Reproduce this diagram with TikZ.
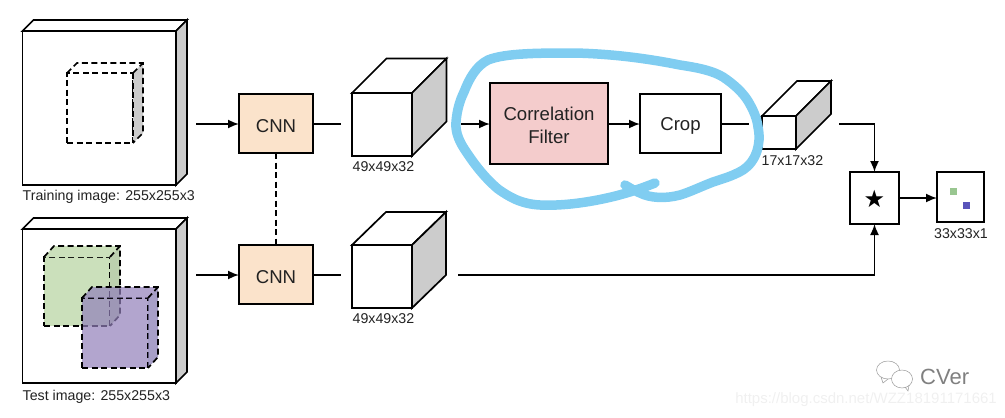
\documentclass[tikz,border=0pt]{standalone}
\usepackage{fontspec}
\setmainfont{Liberation Sans}
\newfontfamily\symfont{DejaVu Sans}
\usetikzlibrary{arrows.meta}
\definecolor{sidegray}{HTML}{CCCCCC}
\definecolor{cnnfill}{HTML}{FBE3CB}
\definecolor{cffill}{HTML}{F4CCCC}
\definecolor{greenf}{HTML}{CBE0BB}
\definecolor{greens}{HTML}{BCD0AE}
\definecolor{purplef}{HTML}{9280BA}
\definecolor{purples}{HTML}{8377B0}
\definecolor{scribble}{HTML}{80CDF1}
\definecolor{txt}{HTML}{222222}
\newcommand{\lowered}[1]{\raisebox{-2.2pt}[\height][\depth]{#1}}
\tikzset{
  edgeline/.style={draw=black,line width=1.7pt,line join=miter},
  dashline/.style={edgeline,dash pattern=on 6pt off 3.5pt},
  boxnode/.style={edgeline,inner sep=0pt,outer sep=0pt,align=center,text=txt,font=\fontsize{18.6}{23}\selectfont},
  facenode/.style={edgeline,fill=white,inner sep=0pt,outer sep=0pt},
  labnode/.style={inner sep=0pt,text=txt,font=\fontsize{14.2}{16}\selectfont},
  connline/.style={draw=black,line width=1.7pt},
  arrowline/.style={connline,-{Latex[length=11pt,width=9pt]}},
  cellnode/.style={inner sep=0pt,outer sep=0pt,minimum size=7pt},
  greenfront/.style={fill=greenf},
  greenside/.style={fill=greens},
  purplefront/.style={fill=purplef,fill opacity=.7},
  purpleside/.style={fill=purples,fill opacity=.7}
}
% name, cx, cy, w, h, dx, dy
\newcommand{\solidcube}[7]{%
  \node[facenode,minimum width=#4pt,minimum height=#5pt] (#1) at (#2,#3) {};
  \draw[edgeline,fill=white] (#1.north west) -- ++(#6,-#7) -- ++(#4,0) -- ++(-#6,#7) -- cycle;
  \draw[edgeline,fill=sidegray] (#1.north east) -- ++(#6,-#7) -- ++(0,#5) -- ++(-#6,#7) -- cycle;
}
% name, cx, cy, w, h, dx, dy, front style, side style
\newcommand{\dashcube}[9]{%
  \node[dashline,#8,inner sep=0pt,outer sep=0pt,minimum width=#4pt,minimum height=#5pt] (#1) at (#2,#3) {};
  \path[#9] (#1.north east) -- ++(#6,-#7) -- ++(0,#5) -- ++(-#6,#7) -- cycle;
  \path[#8] (#1.north west) -- ++(#6,-#7) -- ++(#4,0) -- ++(-#6,#7) -- cycle;
  \draw[dashline] (#1.north west) -- ++(#6,-#7) -- ++(#4,0) -- ++(0,#5) -- ++(-#6,#7);
  \draw[dashline] (#1.north east) -- ++(#6,-#7);
}
\begin{document}
\begin{tikzpicture}[x=1pt,y=-1pt]
\useasboundingbox (0,0) rectangle (1005,418);

% image slabs
\solidcube{train}{99.2}{108}{153.5}{154}{11}{11}
\solidcube{test}{99.2}{306}{153.5}{154}{11}{11}
\node[labnode,anchor=west] (trainlab) at (22.5,197) {Training image: 255x255x3};
\node[labnode,anchor=west] (testlab) at (22.5,397) {Test image: 255x255x3};

% dashed crops
\node[dashline,inner sep=0pt,outer sep=0pt,minimum width=66pt,minimum height=70pt] (tcrop) at (100,108) {};
\fill[sidegray] (tcrop.north east) -- ++(10,-10) -- ++(0,70) -- ++(-10,10) -- cycle;
\draw[dashline] (tcrop.north west) -- ++(10,-10) -- ++(66,0) -- ++(0,70) -- ++(-10,10);
\draw[dashline] (tcrop.north east) -- ++(10,-10);
\draw[dashline] (tcrop.north east) -- (tcrop.south east);
\dashcube{gcrop}{77}{291.5}{66}{69}{10}{11}{greenfront}{greenside}
\dashcube{pcrop}{115}{333}{66}{70}{10}{11}{purplefront}{purpleside}

% CNN
\node[boxnode,fill=cnnfill,minimum width=74pt,minimum height=59pt] (cnna) at (276,123.5) {\lowered{CNN}};
\node[boxnode,fill=cnnfill,minimum width=74pt,minimum height=59pt] (cnnb) at (276,274.5) {\lowered{CNN}};
\draw[dashline] (cnna) -- (cnnb);

% feature cubes
\solidcube{cubea}{382}{124.5}{60}{63}{34.5}{34.5}
\solidcube{cubeb}{382}{276.5}{60}{63}{34}{33}
\solidcube{cubec}{779}{132.5}{34}{33}{35}{35}
\node[labnode,anchor=west] (labela) at (352.5,167) {49x49x32};
\node[labnode,anchor=west] (labelb) at (352.5,319) {49x49x32};
\node[labnode,anchor=west] (labelc) at (761.5,161) {17x17x32};

% correlation and crop
\node[boxnode,fill=cffill,minimum width=118pt,minimum height=81pt] (cf) at (549,123.5) {\lowered{Correlation}\\\lowered{Filter}};
\node[boxnode,fill=white,minimum width=81pt,minimum height=59pt] (crop) at (680.5,123.5) {\lowered{Crop}};

% star and output
\node[boxnode,fill=white,minimum width=49pt,minimum height=52pt] (xcorr) at (874.5,198) {};
\node[inner sep=0pt,font=\symfont\fontsize{24}{24}\selectfont] (star) at (874.5,199) {★};
\node[boxnode,fill=white,minimum width=47pt,minimum height=50pt] (out) at (960.5,197) {};
\node[cellnode,fill=greens!85!green!80!gray] (mga) at (953.5,191.5) {};
\node[cellnode,fill=purples!55!blue!70!gray] (mgb) at (966.5,205.5) {};
\node[labnode,anchor=center] (labelo) at (961,234) {33x33x1};

% connectors
\coordinate (ina) at (196,124);
\coordinate (inb) at (196,275);
\coordinate (outa) at (341,124);
\coordinate (outb) at (341,275);
\coordinate (cfin) at (461,124);
\coordinate (cropout) at (749,124);
\coordinate (cubeout) at (839,124);
\coordinate (cubelow) at (458,275);
\coordinate (cfout) at (608,124);
\draw[arrowline] (ina) -- (ina-|cnna.west);
\draw[arrowline] (inb) -- (inb-|cnnb.west);
\draw[connline] (cnna.east|-outa) -- (outa);
\draw[connline] (cnnb.east|-outb) -- (outb);
\draw[arrowline] (cfin) -- (cfin-|cf.west);
\draw[arrowline] (cfout) -- (cfout-|crop.west);
\draw[connline] (crop.east|-cropout) -- (cropout);
\draw[arrowline] (cubeout) -| (xcorr.north);
\draw[arrowline] (cubelow) -| (xcorr.south);
\draw[arrowline] (xcorr.east) -- (out.west|-xcorr.east);

% blue hand-drawn loop
\draw[scribble,line width=9.5pt,line cap=round,line join=round]
  (655,183) .. controls (640,189) and (625,194) .. (607,198)
  .. controls (585,203) and (560,206) .. (540,205)
  .. controls (520,204) and (508,196) .. (498,189)
  .. controls (485,178) and (475,165) .. (467,153)
  .. controls (460,143) and (455,133) .. (456,122)
  .. controls (457,110) and (460,100) .. (464,92)
  .. controls (469,79) and (476,66) .. (488,60)
  .. controls (505,53) and (540,53) .. (575,53)
  .. controls (615,54) and (650,59) .. (680,65)
  .. controls (700,68) and (713,71) .. (723,77)
  .. controls (735,85) and (743,93) .. (748,101)
  .. controls (754,111) and (757,119) .. (758,127)
  .. controls (760,137) and (759,144) .. (757,151)
  .. controls (754,160) and (749,166) .. (743,170)
  .. controls (733,176) and (722,179) .. (713,182)
  .. controls (700,187) and (690,192) .. (680,195)
  .. controls (665,199) and (650,198) .. (640,193)
  .. controls (635,191) and (630,188) .. (625,185);

% watermark
\node[inner sep=0pt,anchor=west,text=black!50,font=\fontsize{22}{24}\selectfont] (wm) at (920,376.5) {CVer};
\draw[black!40,line width=.5pt,fill=white] (888,370) ellipse (11.5pt and 9pt);
\draw[black!40,line width=.5pt] (881,377) -- (883,383) -- (888,379);
\draw[black!40,line width=.5pt,fill=white] (902,379) ellipse (10.5pt and 9pt);
\draw[black!40,line width=.5pt] (905,387) -- (908,391) -- (909,385);
\node[inner sep=0pt,anchor=east,text=black!6,font=\fontsize{15}{17}\selectfont] (url) at (997,400) {https://blog.csdn.net/WZZ18191171661};
\end{tikzpicture}
\end{document}
